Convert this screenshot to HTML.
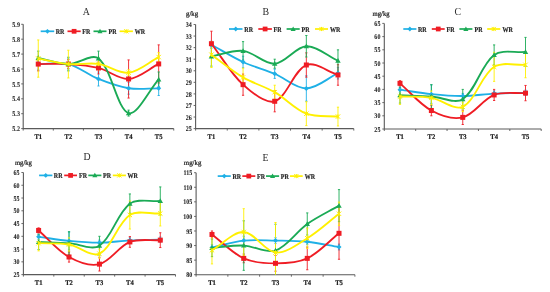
<!DOCTYPE html>
<html><head><meta charset="utf-8"><style>
html,body{margin:0;padding:0;background:#fff;}
body{width:550px;height:292px;overflow:hidden;}
svg{display:block;filter:blur(0.3px);}
text{font-family:"Liberation Serif", serif;text-rendering:geometricPrecision;}
</style></head><body>
<svg width="550" height="292" viewBox="0 0 550 292">
<rect width="550" height="292" fill="#fff"/>
<path d="M23.20,24.30V128.60H173.75" stroke="#5a5a5a" stroke-width="1.1" fill="none"/>
<path d="M21.20,128.60H23.20" stroke="#5a5a5a" stroke-width="0.9"/>
<text transform="translate(19.90,131.20) scale(0.850,1)" text-anchor="end" style="font-size:7.10px;font-weight:bold;fill:#1a1a1a;stroke:#1a1a1a;stroke-width:0.05px">5.2</text>
<path d="M21.20,113.70H23.20" stroke="#5a5a5a" stroke-width="0.9"/>
<text transform="translate(19.90,116.30) scale(0.850,1)" text-anchor="end" style="font-size:7.10px;font-weight:bold;fill:#1a1a1a;stroke:#1a1a1a;stroke-width:0.05px">5.3</text>
<path d="M21.20,98.80H23.20" stroke="#5a5a5a" stroke-width="0.9"/>
<text transform="translate(19.90,101.40) scale(0.850,1)" text-anchor="end" style="font-size:7.10px;font-weight:bold;fill:#1a1a1a;stroke:#1a1a1a;stroke-width:0.05px">5.4</text>
<path d="M21.20,83.90H23.20" stroke="#5a5a5a" stroke-width="0.9"/>
<text transform="translate(19.90,86.50) scale(0.850,1)" text-anchor="end" style="font-size:7.10px;font-weight:bold;fill:#1a1a1a;stroke:#1a1a1a;stroke-width:0.05px">5.5</text>
<path d="M21.20,69.00H23.20" stroke="#5a5a5a" stroke-width="0.9"/>
<text transform="translate(19.90,71.60) scale(0.850,1)" text-anchor="end" style="font-size:7.10px;font-weight:bold;fill:#1a1a1a;stroke:#1a1a1a;stroke-width:0.05px">5.6</text>
<path d="M21.20,54.10H23.20" stroke="#5a5a5a" stroke-width="0.9"/>
<text transform="translate(19.90,56.70) scale(0.850,1)" text-anchor="end" style="font-size:7.10px;font-weight:bold;fill:#1a1a1a;stroke:#1a1a1a;stroke-width:0.05px">5.7</text>
<path d="M21.20,39.20H23.20" stroke="#5a5a5a" stroke-width="0.9"/>
<text transform="translate(19.90,41.80) scale(0.850,1)" text-anchor="end" style="font-size:7.10px;font-weight:bold;fill:#1a1a1a;stroke:#1a1a1a;stroke-width:0.05px">5.8</text>
<path d="M21.20,24.30H23.20" stroke="#5a5a5a" stroke-width="0.9"/>
<text transform="translate(19.90,26.90) scale(0.850,1)" text-anchor="end" style="font-size:7.10px;font-weight:bold;fill:#1a1a1a;stroke:#1a1a1a;stroke-width:0.05px">5.9</text>
<path d="M23.20,128.60V130.60" stroke="#5a5a5a" stroke-width="0.9"/>
<path d="M53.31,128.60V130.60" stroke="#5a5a5a" stroke-width="0.9"/>
<path d="M83.42,128.60V130.60" stroke="#5a5a5a" stroke-width="0.9"/>
<path d="M113.53,128.60V130.60" stroke="#5a5a5a" stroke-width="0.9"/>
<path d="M143.64,128.60V130.60" stroke="#5a5a5a" stroke-width="0.9"/>
<path d="M173.75,128.60V130.60" stroke="#5a5a5a" stroke-width="0.9"/>
<text transform="translate(38.26,138.80) scale(0.930,1)" text-anchor="middle" style="font-size:7.10px;font-weight:bold;fill:#1a1a1a;stroke:#1a1a1a;stroke-width:0.18px">T1</text>
<text transform="translate(68.37,138.80) scale(0.930,1)" text-anchor="middle" style="font-size:7.10px;font-weight:bold;fill:#1a1a1a;stroke:#1a1a1a;stroke-width:0.18px">T2</text>
<text transform="translate(98.48,138.80) scale(0.930,1)" text-anchor="middle" style="font-size:7.10px;font-weight:bold;fill:#1a1a1a;stroke:#1a1a1a;stroke-width:0.18px">T3</text>
<text transform="translate(128.59,138.80) scale(0.930,1)" text-anchor="middle" style="font-size:7.10px;font-weight:bold;fill:#1a1a1a;stroke:#1a1a1a;stroke-width:0.18px">T4</text>
<text transform="translate(158.69,138.80) scale(0.930,1)" text-anchor="middle" style="font-size:7.10px;font-weight:bold;fill:#1a1a1a;stroke:#1a1a1a;stroke-width:0.18px">T5</text>
<text transform="translate(86.30,15.00) scale(0.920,1)" text-anchor="middle" style="font-size:10.70px;font-weight:normal;fill:#2a2a2a">A</text>
<path d="M40.70,31.30H54.20" stroke="#1fb0e6" stroke-width="1.7"/>
<path d="M47.45,28.93L49.83,31.30L47.45,33.67L45.08,31.30Z" fill="#1fb0e6"/>
<text transform="translate(55.70,34.00) scale(0.850,1)" text-anchor="start" style="font-size:7.10px;font-weight:bold;fill:#1a1a1a;stroke:#1a1a1a;stroke-width:0.18px">RR</text>
<path d="M67.50,31.30H80.70" stroke="#ef1c24" stroke-width="1.7"/>
<rect x="71.72" y="28.93" width="4.75" height="4.75" fill="#ef1c24"/>
<text transform="translate(82.30,34.00) scale(0.850,1)" text-anchor="start" style="font-size:7.10px;font-weight:bold;fill:#1a1a1a;stroke:#1a1a1a;stroke-width:0.18px">FR</text>
<path d="M93.50,31.30H106.50" stroke="#1aaa55" stroke-width="1.7"/>
<path d="M100.00,28.73L102.56,33.22L97.44,33.22Z" fill="#1aaa55"/>
<text transform="translate(108.60,34.00) scale(0.850,1)" text-anchor="start" style="font-size:7.10px;font-weight:bold;fill:#1a1a1a;stroke:#1a1a1a;stroke-width:0.18px">PR</text>
<path d="M119.60,31.30H132.90" stroke="#fff000" stroke-width="1.7"/>
<path d="M124.16,29.21L128.34,33.39M124.16,33.39L128.34,29.21M126.25,29.21L126.25,33.39" stroke="#fff000" stroke-width="1" fill="none"/>
<text transform="translate(134.70,34.00) scale(0.850,1)" text-anchor="start" style="font-size:7.10px;font-weight:bold;fill:#1a1a1a;stroke:#1a1a1a;stroke-width:0.18px">WR</text>
<clipPath id="c23_24"><rect x="23.20" y="-5.70" width="150.55" height="134.30"/></clipPath><g clip-path="url(#c23_24)">
<path d="M38.26,58.12V70.04M37.16,58.12H39.36M37.16,70.04H39.36" stroke="#1fb0e6" stroke-width="0.9" fill="none"/>
<path d="M68.37,58.12V70.04M67.27,58.12H69.47M67.27,70.04H69.47" stroke="#1fb0e6" stroke-width="0.9" fill="none"/>
<path d="M98.48,71.98V85.99M97.38,71.98H99.58M97.38,85.99H99.58" stroke="#1fb0e6" stroke-width="0.9" fill="none"/>
<path d="M128.59,82.26V94.18M127.49,82.26H129.69M127.49,94.18H129.69" stroke="#1fb0e6" stroke-width="0.9" fill="none"/>
<path d="M158.69,81.22V95.52M157.59,81.22H159.79M157.59,95.52H159.79" stroke="#1fb0e6" stroke-width="0.9" fill="none"/>
<path d="M38.26,57.23V70.94M37.16,57.23H39.36M37.16,70.94H39.36" stroke="#ef1c24" stroke-width="0.9" fill="none"/>
<path d="M68.37,59.61V68.55M67.27,59.61H69.47M67.27,68.55H69.47" stroke="#ef1c24" stroke-width="0.9" fill="none"/>
<path d="M98.48,62.00V73.92M97.38,62.00H99.58M97.38,73.92H99.58" stroke="#ef1c24" stroke-width="0.9" fill="none"/>
<path d="M128.59,59.91V98.05M127.49,59.91H129.69M127.49,98.05H129.69" stroke="#ef1c24" stroke-width="0.9" fill="none"/>
<path d="M158.69,44.86V83.01M157.59,44.86H159.79M157.59,83.01H159.79" stroke="#ef1c24" stroke-width="0.9" fill="none"/>
<path d="M38.26,51.12V64.83M37.16,51.12H39.36M37.16,64.83H39.36" stroke="#1aaa55" stroke-width="0.9" fill="none"/>
<path d="M68.37,57.23V70.94M67.27,57.23H69.47M67.27,70.94H69.47" stroke="#1aaa55" stroke-width="0.9" fill="none"/>
<path d="M98.48,51.12V65.72M97.38,51.12H99.58M97.38,65.72H99.58" stroke="#1aaa55" stroke-width="0.9" fill="none"/>
<path d="M128.59,110.12V116.08M127.49,110.12H129.69M127.49,116.08H129.69" stroke="#1aaa55" stroke-width="0.9" fill="none"/>
<path d="M158.69,71.98V86.88M157.59,71.98H159.79M157.59,86.88H159.79" stroke="#1aaa55" stroke-width="0.9" fill="none"/>
<path d="M38.26,39.95V77.20M37.16,39.95H39.36M37.16,77.20H39.36" stroke="#fff000" stroke-width="0.9" fill="none"/>
<path d="M68.37,50.23V77.94M67.27,50.23H69.47M67.27,77.94H69.47" stroke="#fff000" stroke-width="0.9" fill="none"/>
<path d="M98.48,57.97V69.89M97.38,57.97H99.58M97.38,69.89H99.58" stroke="#fff000" stroke-width="0.9" fill="none"/>
<path d="M128.59,69.75V75.70M127.49,69.75H129.69M127.49,75.70H129.69" stroke="#fff000" stroke-width="0.9" fill="none"/>
<path d="M158.69,52.61V61.55M157.59,52.61H159.79M157.59,61.55H159.79" stroke="#fff000" stroke-width="0.9" fill="none"/>
</g>
<path d="M38.26,64.08 C48.29,64.08 58.88,61.74 68.37,64.08 C78.95,66.70 88.11,74.83 98.48,78.98 C108.19,82.88 118.32,86.62 128.59,88.22 C138.40,89.75 148.66,88.32 158.69,88.37" stroke="#1fb0e6" stroke-width="1.85" fill="none"/>
<path d="M38.26,61.58L40.76,64.08L38.26,66.58L35.76,64.08Z" fill="#1fb0e6"/>
<path d="M68.37,61.58L70.87,64.08L68.37,66.58L65.87,64.08Z" fill="#1fb0e6"/>
<path d="M98.48,76.48L100.98,78.98L98.48,81.48L95.98,78.98Z" fill="#1fb0e6"/>
<path d="M128.59,85.72L131.09,88.22L128.59,90.72L126.09,88.22Z" fill="#1fb0e6"/>
<path d="M158.69,85.87L161.19,88.37L158.69,90.87L156.19,88.37Z" fill="#1fb0e6"/>
<path d="M38.26,64.08 C48.29,64.08 58.37,63.44 68.37,64.08 C78.44,64.73 88.71,65.54 98.48,67.96 C108.79,70.51 118.79,79.64 128.59,78.98 C138.87,78.30 148.66,68.95 158.69,63.93" stroke="#ef1c24" stroke-width="1.85" fill="none"/>
<rect x="35.76" y="61.58" width="5.00" height="5.00" fill="#ef1c24"/>
<rect x="65.87" y="61.58" width="5.00" height="5.00" fill="#ef1c24"/>
<rect x="95.98" y="65.46" width="5.00" height="5.00" fill="#ef1c24"/>
<rect x="126.09" y="76.48" width="5.00" height="5.00" fill="#ef1c24"/>
<rect x="156.19" y="61.43" width="5.00" height="5.00" fill="#ef1c24"/>
<path d="M38.26,57.97 C48.29,60.01 58.31,64.01 68.37,64.08 C78.39,64.16 91.87,53.04 98.48,58.42 C111.94,69.38 116.94,109.04 128.59,113.10 C137.01,116.04 148.66,90.65 158.69,79.43" stroke="#1aaa55" stroke-width="1.85" fill="none"/>
<path d="M38.26,55.27L40.96,60.00L35.55,60.00Z" fill="#1aaa55"/>
<path d="M68.37,61.38L71.07,66.11L65.67,66.11Z" fill="#1aaa55"/>
<path d="M98.48,55.72L101.18,60.45L95.78,60.45Z" fill="#1aaa55"/>
<path d="M128.59,110.40L131.28,115.13L125.89,115.13Z" fill="#1aaa55"/>
<path d="M158.69,76.73L161.39,81.46L156.00,81.46Z" fill="#1aaa55"/>
<path d="M38.26,58.57 C48.29,60.41 58.25,63.18 68.37,64.08 C78.32,64.97 88.64,62.52 98.48,63.93 C108.72,65.40 118.94,73.82 128.59,72.73 C139.02,71.54 148.66,62.30 158.69,57.08" stroke="#fff000" stroke-width="1.85" fill="none"/>
<path d="M36.05,56.37L40.46,60.77M36.05,60.77L40.46,56.37M38.26,56.37L38.26,60.77" stroke="#fff000" stroke-width="1" fill="none"/>
<path d="M66.17,61.88L70.57,66.28M66.17,66.28L70.57,61.88M68.37,61.88L68.37,66.28" stroke="#fff000" stroke-width="1" fill="none"/>
<path d="M96.28,61.73L100.68,66.13M96.28,66.13L100.68,61.73M98.48,61.73L98.48,66.13" stroke="#fff000" stroke-width="1" fill="none"/>
<path d="M126.39,70.53L130.78,74.93M126.39,74.93L130.78,70.53M128.59,70.53L128.59,74.93" stroke="#fff000" stroke-width="1" fill="none"/>
<path d="M156.50,54.88L160.89,59.28M156.50,59.28L160.89,54.88M158.69,54.88L158.69,59.28" stroke="#fff000" stroke-width="1" fill="none"/>
<path d="M195.60,24.50V128.60H353.80" stroke="#5a5a5a" stroke-width="1.1" fill="none"/>
<path d="M193.60,128.60H195.60" stroke="#5a5a5a" stroke-width="0.9"/>
<text transform="translate(191.70,131.20) scale(0.850,1)" text-anchor="end" style="font-size:7.10px;font-weight:bold;fill:#1a1a1a;stroke:#1a1a1a;stroke-width:0.05px">25</text>
<path d="M193.60,117.03H195.60" stroke="#5a5a5a" stroke-width="0.9"/>
<text transform="translate(191.70,119.63) scale(0.850,1)" text-anchor="end" style="font-size:7.10px;font-weight:bold;fill:#1a1a1a;stroke:#1a1a1a;stroke-width:0.05px">26</text>
<path d="M193.60,105.47H195.60" stroke="#5a5a5a" stroke-width="0.9"/>
<text transform="translate(191.70,108.07) scale(0.850,1)" text-anchor="end" style="font-size:7.10px;font-weight:bold;fill:#1a1a1a;stroke:#1a1a1a;stroke-width:0.05px">27</text>
<path d="M193.60,93.90H195.60" stroke="#5a5a5a" stroke-width="0.9"/>
<text transform="translate(191.70,96.50) scale(0.850,1)" text-anchor="end" style="font-size:7.10px;font-weight:bold;fill:#1a1a1a;stroke:#1a1a1a;stroke-width:0.05px">28</text>
<path d="M193.60,82.33H195.60" stroke="#5a5a5a" stroke-width="0.9"/>
<text transform="translate(191.70,84.93) scale(0.850,1)" text-anchor="end" style="font-size:7.10px;font-weight:bold;fill:#1a1a1a;stroke:#1a1a1a;stroke-width:0.05px">29</text>
<path d="M193.60,70.77H195.60" stroke="#5a5a5a" stroke-width="0.9"/>
<text transform="translate(191.70,73.37) scale(0.850,1)" text-anchor="end" style="font-size:7.10px;font-weight:bold;fill:#1a1a1a;stroke:#1a1a1a;stroke-width:0.05px">30</text>
<path d="M193.60,59.20H195.60" stroke="#5a5a5a" stroke-width="0.9"/>
<text transform="translate(191.70,61.80) scale(0.850,1)" text-anchor="end" style="font-size:7.10px;font-weight:bold;fill:#1a1a1a;stroke:#1a1a1a;stroke-width:0.05px">31</text>
<path d="M193.60,47.63H195.60" stroke="#5a5a5a" stroke-width="0.9"/>
<text transform="translate(191.70,50.23) scale(0.850,1)" text-anchor="end" style="font-size:7.10px;font-weight:bold;fill:#1a1a1a;stroke:#1a1a1a;stroke-width:0.05px">32</text>
<path d="M193.60,36.07H195.60" stroke="#5a5a5a" stroke-width="0.9"/>
<text transform="translate(191.70,38.67) scale(0.850,1)" text-anchor="end" style="font-size:7.10px;font-weight:bold;fill:#1a1a1a;stroke:#1a1a1a;stroke-width:0.05px">33</text>
<path d="M193.60,24.50H195.60" stroke="#5a5a5a" stroke-width="0.9"/>
<text transform="translate(191.70,27.10) scale(0.850,1)" text-anchor="end" style="font-size:7.10px;font-weight:bold;fill:#1a1a1a;stroke:#1a1a1a;stroke-width:0.05px">34</text>
<path d="M195.60,128.60V130.60" stroke="#5a5a5a" stroke-width="0.9"/>
<path d="M227.24,128.60V130.60" stroke="#5a5a5a" stroke-width="0.9"/>
<path d="M258.88,128.60V130.60" stroke="#5a5a5a" stroke-width="0.9"/>
<path d="M290.52,128.60V130.60" stroke="#5a5a5a" stroke-width="0.9"/>
<path d="M322.16,128.60V130.60" stroke="#5a5a5a" stroke-width="0.9"/>
<path d="M353.80,128.60V130.60" stroke="#5a5a5a" stroke-width="0.9"/>
<text transform="translate(211.42,138.80) scale(0.930,1)" text-anchor="middle" style="font-size:7.10px;font-weight:bold;fill:#1a1a1a;stroke:#1a1a1a;stroke-width:0.18px">T1</text>
<text transform="translate(243.06,138.80) scale(0.930,1)" text-anchor="middle" style="font-size:7.10px;font-weight:bold;fill:#1a1a1a;stroke:#1a1a1a;stroke-width:0.18px">T2</text>
<text transform="translate(274.70,138.80) scale(0.930,1)" text-anchor="middle" style="font-size:7.10px;font-weight:bold;fill:#1a1a1a;stroke:#1a1a1a;stroke-width:0.18px">T3</text>
<text transform="translate(306.34,138.80) scale(0.930,1)" text-anchor="middle" style="font-size:7.10px;font-weight:bold;fill:#1a1a1a;stroke:#1a1a1a;stroke-width:0.18px">T4</text>
<text transform="translate(337.98,138.80) scale(0.930,1)" text-anchor="middle" style="font-size:7.10px;font-weight:bold;fill:#1a1a1a;stroke:#1a1a1a;stroke-width:0.18px">T5</text>
<text transform="translate(265.80,15.20) scale(0.920,1)" text-anchor="middle" style="font-size:10.70px;font-weight:normal;fill:#2a2a2a">B</text>
<text transform="translate(186.00,16.20) scale(0.967,1)" text-anchor="start" style="font-size:7.10px;font-weight:normal;fill:#1a1a1a;stroke:#1a1a1a;stroke-width:0.22px">g/kg</text>
<path d="M229.00,29.00H242.50" stroke="#1fb0e6" stroke-width="1.7"/>
<path d="M235.75,26.62L238.12,29.00L235.75,31.38L233.38,29.00Z" fill="#1fb0e6"/>
<text transform="translate(244.30,31.70) scale(0.850,1)" text-anchor="start" style="font-size:7.10px;font-weight:bold;fill:#1a1a1a;stroke:#1a1a1a;stroke-width:0.18px">RR</text>
<path d="M258.30,29.00H271.90" stroke="#ef1c24" stroke-width="1.7"/>
<rect x="262.73" y="26.62" width="4.75" height="4.75" fill="#ef1c24"/>
<text transform="translate(273.50,31.70) scale(0.850,1)" text-anchor="start" style="font-size:7.10px;font-weight:bold;fill:#1a1a1a;stroke:#1a1a1a;stroke-width:0.18px">FR</text>
<path d="M286.60,29.00H299.70" stroke="#1aaa55" stroke-width="1.7"/>
<path d="M293.15,26.43L295.71,30.92L290.58,30.92Z" fill="#1aaa55"/>
<text transform="translate(301.50,31.70) scale(0.850,1)" text-anchor="start" style="font-size:7.10px;font-weight:bold;fill:#1a1a1a;stroke:#1a1a1a;stroke-width:0.18px">PR</text>
<path d="M315.00,29.00H328.00" stroke="#fff000" stroke-width="1.7"/>
<path d="M319.41,26.91L323.59,31.09M319.41,31.09L323.59,26.91M321.50,26.91L321.50,31.09" stroke="#fff000" stroke-width="1" fill="none"/>
<text transform="translate(330.00,31.70) scale(0.850,1)" text-anchor="start" style="font-size:7.10px;font-weight:bold;fill:#1a1a1a;stroke:#1a1a1a;stroke-width:0.18px">WR</text>
<clipPath id="c195_24"><rect x="195.60" y="-5.50" width="158.20" height="134.10"/></clipPath><g clip-path="url(#c195_24)">
<path d="M211.42,41.27V48.21M210.32,41.27H212.52M210.32,48.21H212.52" stroke="#1fb0e6" stroke-width="0.9" fill="none"/>
<path d="M243.06,56.19V67.76M241.96,56.19H244.16M241.96,67.76H244.16" stroke="#1fb0e6" stroke-width="0.9" fill="none"/>
<path d="M274.70,69.15V78.40M273.60,69.15H275.80M273.60,78.40H275.80" stroke="#1fb0e6" stroke-width="0.9" fill="none"/>
<path d="M306.34,75.74V101.19M305.24,75.74H307.44M305.24,101.19H307.44" stroke="#1fb0e6" stroke-width="0.9" fill="none"/>
<path d="M337.98,67.41V78.98M336.88,67.41H339.08M336.88,78.98H339.08" stroke="#1fb0e6" stroke-width="0.9" fill="none"/>
<path d="M211.42,31.21V56.19M210.32,31.21H212.52M210.32,56.19H212.52" stroke="#ef1c24" stroke-width="0.9" fill="none"/>
<path d="M243.06,74.01V95.29M241.96,74.01H244.16M241.96,95.29H244.16" stroke="#ef1c24" stroke-width="0.9" fill="none"/>
<path d="M274.70,90.78V111.83M273.60,90.78H275.80M273.60,111.83H275.80" stroke="#ef1c24" stroke-width="0.9" fill="none"/>
<path d="M306.34,52.84V77.13M305.24,52.84H307.44M305.24,77.13H307.44" stroke="#ef1c24" stroke-width="0.9" fill="none"/>
<path d="M337.98,64.64V85.22M336.88,64.64H339.08M336.88,85.22H339.08" stroke="#ef1c24" stroke-width="0.9" fill="none"/>
<path d="M211.42,46.71V66.14M210.32,46.71H212.52M210.32,66.14H212.52" stroke="#1aaa55" stroke-width="0.9" fill="none"/>
<path d="M243.06,41.62V60.13M241.96,41.62H244.16M241.96,60.13H244.16" stroke="#1aaa55" stroke-width="0.9" fill="none"/>
<path d="M274.70,59.20V68.22M273.60,59.20H275.80M273.60,68.22H275.80" stroke="#1aaa55" stroke-width="0.9" fill="none"/>
<path d="M306.34,35.49V57.00M305.24,35.49H307.44M305.24,57.00H307.44" stroke="#1aaa55" stroke-width="0.9" fill="none"/>
<path d="M337.98,49.83V71.81M336.88,49.83H339.08M336.88,71.81H339.08" stroke="#1aaa55" stroke-width="0.9" fill="none"/>
<path d="M211.42,41.85V67.53M210.32,41.85H212.52M210.32,67.53H212.52" stroke="#fff000" stroke-width="0.9" fill="none"/>
<path d="M243.06,68.11V86.61M241.96,68.11H244.16M241.96,86.61H244.16" stroke="#fff000" stroke-width="0.9" fill="none"/>
<path d="M274.70,85.22V99.11M273.60,85.22H275.80M273.60,99.11H275.80" stroke="#fff000" stroke-width="0.9" fill="none"/>
<path d="M306.34,101.77V125.59M305.24,101.77H307.44M305.24,125.59H307.44" stroke="#fff000" stroke-width="0.9" fill="none"/>
<path d="M337.98,107.20V125.94M336.88,107.20H339.08M336.88,125.94H339.08" stroke="#fff000" stroke-width="0.9" fill="none"/>
</g>
<path d="M211.42,44.74 C221.97,50.49 232.17,56.98 243.06,61.98 C253.26,66.66 264.32,69.43 274.70,73.77 C285.42,78.26 295.83,88.56 306.34,88.46 C316.92,88.37 327.43,78.29 337.98,73.20" stroke="#1fb0e6" stroke-width="1.85" fill="none"/>
<path d="M211.42,42.24L213.92,44.74L211.42,47.24L208.92,44.74Z" fill="#1fb0e6"/>
<path d="M243.06,59.48L245.56,61.98L243.06,64.48L240.56,61.98Z" fill="#1fb0e6"/>
<path d="M274.70,71.27L277.20,73.77L274.70,76.27L272.20,73.77Z" fill="#1fb0e6"/>
<path d="M306.34,85.96L308.84,88.46L306.34,90.96L303.84,88.46Z" fill="#1fb0e6"/>
<path d="M337.98,70.70L340.48,73.20L337.98,75.70L335.48,73.20Z" fill="#1fb0e6"/>
<path d="M211.42,43.70 C221.97,57.35 230.59,73.29 243.06,84.65 C251.68,92.49 265.71,104.10 274.70,101.30 C286.81,97.54 293.85,70.19 306.34,64.98 C314.94,61.40 327.43,71.61 337.98,74.93" stroke="#ef1c24" stroke-width="1.85" fill="none"/>
<rect x="208.92" y="41.20" width="5.00" height="5.00" fill="#ef1c24"/>
<rect x="240.56" y="82.15" width="5.00" height="5.00" fill="#ef1c24"/>
<rect x="272.20" y="98.80" width="5.00" height="5.00" fill="#ef1c24"/>
<rect x="303.84" y="62.48" width="5.00" height="5.00" fill="#ef1c24"/>
<rect x="335.48" y="72.43" width="5.00" height="5.00" fill="#ef1c24"/>
<path d="M211.42,56.42 C221.97,54.57 232.84,49.69 243.06,50.87 C253.93,52.12 264.45,64.46 274.70,63.71 C285.55,62.92 295.60,46.74 306.34,46.25 C316.69,45.77 327.43,55.96 337.98,60.82" stroke="#1aaa55" stroke-width="1.85" fill="none"/>
<path d="M211.42,53.72L214.12,58.45L208.72,58.45Z" fill="#1aaa55"/>
<path d="M243.06,48.17L245.76,52.90L240.36,52.90Z" fill="#1aaa55"/>
<path d="M274.70,61.01L277.40,65.74L272.00,65.74Z" fill="#1aaa55"/>
<path d="M306.34,43.55L309.04,48.27L303.64,48.27Z" fill="#1aaa55"/>
<path d="M337.98,58.12L340.68,62.84L335.28,62.84Z" fill="#1aaa55"/>
<path d="M211.42,54.69 C221.97,62.25 231.94,70.78 243.06,77.36 C253.04,83.27 264.63,86.39 274.70,92.17 C285.73,98.49 294.82,109.23 306.34,113.68 C315.91,117.37 327.43,115.61 337.98,116.57" stroke="#fff000" stroke-width="1.85" fill="none"/>
<path d="M209.22,52.49L213.62,56.89M209.22,56.89L213.62,52.49M211.42,52.49L211.42,56.89" stroke="#fff000" stroke-width="1" fill="none"/>
<path d="M240.86,75.16L245.26,79.56M240.86,79.56L245.26,75.16M243.06,75.16L243.06,79.56" stroke="#fff000" stroke-width="1" fill="none"/>
<path d="M272.50,89.97L276.90,94.37M272.50,94.37L276.90,89.97M274.70,89.97L274.70,94.37" stroke="#fff000" stroke-width="1" fill="none"/>
<path d="M304.14,111.48L308.54,115.88M304.14,115.88L308.54,111.48M306.34,111.48L306.34,115.88" stroke="#fff000" stroke-width="1" fill="none"/>
<path d="M335.78,114.37L340.18,118.77M335.78,118.77L340.18,114.37M337.98,114.37L337.98,118.77" stroke="#fff000" stroke-width="1" fill="none"/>
<path d="M384.30,23.40V129.00H541.20" stroke="#5a5a5a" stroke-width="1.1" fill="none"/>
<path d="M382.30,129.00H384.30" stroke="#5a5a5a" stroke-width="0.9"/>
<text transform="translate(380.40,131.60) scale(0.850,1)" text-anchor="end" style="font-size:7.10px;font-weight:bold;fill:#1a1a1a;stroke:#1a1a1a;stroke-width:0.05px">25</text>
<path d="M382.30,115.80H384.30" stroke="#5a5a5a" stroke-width="0.9"/>
<text transform="translate(380.40,118.40) scale(0.850,1)" text-anchor="end" style="font-size:7.10px;font-weight:bold;fill:#1a1a1a;stroke:#1a1a1a;stroke-width:0.05px">30</text>
<path d="M382.30,102.60H384.30" stroke="#5a5a5a" stroke-width="0.9"/>
<text transform="translate(380.40,105.20) scale(0.850,1)" text-anchor="end" style="font-size:7.10px;font-weight:bold;fill:#1a1a1a;stroke:#1a1a1a;stroke-width:0.05px">35</text>
<path d="M382.30,89.40H384.30" stroke="#5a5a5a" stroke-width="0.9"/>
<text transform="translate(380.40,92.00) scale(0.850,1)" text-anchor="end" style="font-size:7.10px;font-weight:bold;fill:#1a1a1a;stroke:#1a1a1a;stroke-width:0.05px">40</text>
<path d="M382.30,76.20H384.30" stroke="#5a5a5a" stroke-width="0.9"/>
<text transform="translate(380.40,78.80) scale(0.850,1)" text-anchor="end" style="font-size:7.10px;font-weight:bold;fill:#1a1a1a;stroke:#1a1a1a;stroke-width:0.05px">45</text>
<path d="M382.30,63.00H384.30" stroke="#5a5a5a" stroke-width="0.9"/>
<text transform="translate(380.40,65.60) scale(0.850,1)" text-anchor="end" style="font-size:7.10px;font-weight:bold;fill:#1a1a1a;stroke:#1a1a1a;stroke-width:0.05px">50</text>
<path d="M382.30,49.80H384.30" stroke="#5a5a5a" stroke-width="0.9"/>
<text transform="translate(380.40,52.40) scale(0.850,1)" text-anchor="end" style="font-size:7.10px;font-weight:bold;fill:#1a1a1a;stroke:#1a1a1a;stroke-width:0.05px">55</text>
<path d="M382.30,36.60H384.30" stroke="#5a5a5a" stroke-width="0.9"/>
<text transform="translate(380.40,39.20) scale(0.850,1)" text-anchor="end" style="font-size:7.10px;font-weight:bold;fill:#1a1a1a;stroke:#1a1a1a;stroke-width:0.05px">60</text>
<path d="M382.30,23.40H384.30" stroke="#5a5a5a" stroke-width="0.9"/>
<text transform="translate(380.40,26.00) scale(0.850,1)" text-anchor="end" style="font-size:7.10px;font-weight:bold;fill:#1a1a1a;stroke:#1a1a1a;stroke-width:0.05px">65</text>
<path d="M384.30,129.00V131.00" stroke="#5a5a5a" stroke-width="0.9"/>
<path d="M415.68,129.00V131.00" stroke="#5a5a5a" stroke-width="0.9"/>
<path d="M447.06,129.00V131.00" stroke="#5a5a5a" stroke-width="0.9"/>
<path d="M478.44,129.00V131.00" stroke="#5a5a5a" stroke-width="0.9"/>
<path d="M509.82,129.00V131.00" stroke="#5a5a5a" stroke-width="0.9"/>
<path d="M541.20,129.00V131.00" stroke="#5a5a5a" stroke-width="0.9"/>
<text transform="translate(399.99,139.20) scale(0.930,1)" text-anchor="middle" style="font-size:7.10px;font-weight:bold;fill:#1a1a1a;stroke:#1a1a1a;stroke-width:0.18px">T1</text>
<text transform="translate(431.37,139.20) scale(0.930,1)" text-anchor="middle" style="font-size:7.10px;font-weight:bold;fill:#1a1a1a;stroke:#1a1a1a;stroke-width:0.18px">T2</text>
<text transform="translate(462.75,139.20) scale(0.930,1)" text-anchor="middle" style="font-size:7.10px;font-weight:bold;fill:#1a1a1a;stroke:#1a1a1a;stroke-width:0.18px">T3</text>
<text transform="translate(494.13,139.20) scale(0.930,1)" text-anchor="middle" style="font-size:7.10px;font-weight:bold;fill:#1a1a1a;stroke:#1a1a1a;stroke-width:0.18px">T4</text>
<text transform="translate(525.51,139.20) scale(0.930,1)" text-anchor="middle" style="font-size:7.10px;font-weight:bold;fill:#1a1a1a;stroke:#1a1a1a;stroke-width:0.18px">T5</text>
<text transform="translate(457.80,15.00) scale(0.920,1)" text-anchor="middle" style="font-size:10.70px;font-weight:normal;fill:#2a2a2a">C</text>
<text transform="translate(372.60,16.00) scale(0.936,1)" text-anchor="start" style="font-size:7.10px;font-weight:normal;fill:#1a1a1a;stroke:#1a1a1a;stroke-width:0.22px">mg/kg</text>
<path d="M403.30,29.00H416.40" stroke="#1fb0e6" stroke-width="1.7"/>
<path d="M409.85,26.62L412.23,29.00L409.85,31.38L407.48,29.00Z" fill="#1fb0e6"/>
<text transform="translate(418.00,31.70) scale(0.850,1)" text-anchor="start" style="font-size:7.10px;font-weight:bold;fill:#1a1a1a;stroke:#1a1a1a;stroke-width:0.18px">RR</text>
<path d="M431.80,29.00H444.70" stroke="#ef1c24" stroke-width="1.7"/>
<rect x="435.88" y="26.62" width="4.75" height="4.75" fill="#ef1c24"/>
<text transform="translate(446.60,31.70) scale(0.850,1)" text-anchor="start" style="font-size:7.10px;font-weight:bold;fill:#1a1a1a;stroke:#1a1a1a;stroke-width:0.18px">FR</text>
<path d="M459.40,29.00H472.40" stroke="#1aaa55" stroke-width="1.7"/>
<path d="M465.90,26.43L468.46,30.92L463.33,30.92Z" fill="#1aaa55"/>
<text transform="translate(474.60,31.70) scale(0.850,1)" text-anchor="start" style="font-size:7.10px;font-weight:bold;fill:#1a1a1a;stroke:#1a1a1a;stroke-width:0.18px">PR</text>
<path d="M487.20,29.00H500.30" stroke="#fff000" stroke-width="1.7"/>
<path d="M491.66,26.91L495.84,31.09M491.66,31.09L495.84,26.91M493.75,26.91L493.75,31.09" stroke="#fff000" stroke-width="1" fill="none"/>
<text transform="translate(502.40,31.70) scale(0.850,1)" text-anchor="start" style="font-size:7.10px;font-weight:bold;fill:#1a1a1a;stroke:#1a1a1a;stroke-width:0.18px">WR</text>
<clipPath id="c384_23"><rect x="384.30" y="-6.60" width="156.90" height="135.60"/></clipPath><g clip-path="url(#c384_23)">
<path d="M399.99,87.02V92.30M398.89,87.02H401.09M398.89,92.30H401.09" stroke="#1fb0e6" stroke-width="0.9" fill="none"/>
<path d="M431.37,84.91V103.39M430.27,84.91H432.47M430.27,103.39H432.47" stroke="#1fb0e6" stroke-width="0.9" fill="none"/>
<path d="M462.75,93.36V98.64M461.65,93.36H463.85M461.65,98.64H463.85" stroke="#1fb0e6" stroke-width="0.9" fill="none"/>
<path d="M494.13,90.98V96.26M493.03,90.98H495.23M493.03,96.26H495.23" stroke="#1fb0e6" stroke-width="0.9" fill="none"/>
<path d="M525.51,90.19V95.47M524.41,90.19H526.61M524.41,95.47H526.61" stroke="#1fb0e6" stroke-width="0.9" fill="none"/>
<path d="M399.99,80.69V85.97M398.89,80.69H401.09M398.89,85.97H401.09" stroke="#ef1c24" stroke-width="0.9" fill="none"/>
<path d="M431.37,105.24V115.80M430.27,105.24H432.47M430.27,115.80H432.47" stroke="#ef1c24" stroke-width="0.9" fill="none"/>
<path d="M462.75,110.26V124.51M461.65,110.26H463.85M461.65,124.51H463.85" stroke="#ef1c24" stroke-width="0.9" fill="none"/>
<path d="M494.13,89.40V100.49M493.03,89.40H495.23M493.03,100.49H495.23" stroke="#ef1c24" stroke-width="0.9" fill="none"/>
<path d="M525.51,85.44V100.75M524.41,85.44H526.61M524.41,100.75H526.61" stroke="#ef1c24" stroke-width="0.9" fill="none"/>
<path d="M399.99,87.29V103.13M398.89,87.29H401.09M398.89,103.13H401.09" stroke="#1aaa55" stroke-width="0.9" fill="none"/>
<path d="M431.37,84.65V108.41M430.27,84.65H432.47M430.27,108.41H432.47" stroke="#1aaa55" stroke-width="0.9" fill="none"/>
<path d="M462.75,89.40V108.94M461.65,89.40H463.85M461.65,108.94H463.85" stroke="#1aaa55" stroke-width="0.9" fill="none"/>
<path d="M494.13,44.92V64.98M493.03,44.92H495.23M493.03,64.98H495.23" stroke="#1aaa55" stroke-width="0.9" fill="none"/>
<path d="M525.51,37.39V66.43M524.41,37.39H526.61M524.41,66.43H526.61" stroke="#1aaa55" stroke-width="0.9" fill="none"/>
<path d="M399.99,88.61V104.45M398.89,88.61H401.09M398.89,104.45H401.09" stroke="#fff000" stroke-width="0.9" fill="none"/>
<path d="M431.37,90.98V104.71M430.27,90.98H432.47M430.27,104.71H432.47" stroke="#fff000" stroke-width="0.9" fill="none"/>
<path d="M462.75,102.07V111.58M461.65,102.07H463.85M461.65,111.58H463.85" stroke="#fff000" stroke-width="0.9" fill="none"/>
<path d="M494.13,52.31V81.35M493.03,52.31H495.23M493.03,81.35H495.23" stroke="#fff000" stroke-width="0.9" fill="none"/>
<path d="M525.51,51.91V77.78M524.41,51.91H526.61M524.41,77.78H526.61" stroke="#fff000" stroke-width="0.9" fill="none"/>
</g>
<path d="M399.99,89.66 C410.45,91.16 420.87,93.09 431.37,94.15 C441.79,95.20 452.30,96.09 462.75,96.00 C473.22,95.91 483.66,94.15 494.13,93.62 C504.58,93.10 515.05,93.10 525.51,92.83" stroke="#1fb0e6" stroke-width="1.85" fill="none"/>
<path d="M399.99,87.16L402.49,89.66L399.99,92.16L397.49,89.66Z" fill="#1fb0e6"/>
<path d="M431.37,91.65L433.87,94.15L431.37,96.65L428.87,94.15Z" fill="#1fb0e6"/>
<path d="M462.75,93.50L465.25,96.00L462.75,98.50L460.25,96.00Z" fill="#1fb0e6"/>
<path d="M494.13,91.12L496.63,93.62L494.13,96.12L491.63,93.62Z" fill="#1fb0e6"/>
<path d="M525.51,90.33L528.01,92.83L525.51,95.33L523.01,92.83Z" fill="#1fb0e6"/>
<path d="M399.99,83.33 C410.45,92.39 419.57,104.12 431.37,110.52 C440.49,115.47 453.25,119.74 462.75,117.38 C474.17,114.55 482.60,99.41 494.13,94.94 C503.52,91.31 515.05,93.71 525.51,93.10" stroke="#ef1c24" stroke-width="1.85" fill="none"/>
<rect x="397.49" y="80.83" width="5.00" height="5.00" fill="#ef1c24"/>
<rect x="428.87" y="108.02" width="5.00" height="5.00" fill="#ef1c24"/>
<rect x="460.25" y="114.88" width="5.00" height="5.00" fill="#ef1c24"/>
<rect x="491.63" y="92.44" width="5.00" height="5.00" fill="#ef1c24"/>
<rect x="523.01" y="90.60" width="5.00" height="5.00" fill="#ef1c24"/>
<path d="M399.99,95.21 C410.45,95.65 420.92,95.87 431.37,96.53 C441.84,97.19 455.06,104.26 462.75,99.17 C475.98,90.40 480.90,64.91 494.13,54.95 C501.82,49.16 515.05,52.92 525.51,51.91" stroke="#1aaa55" stroke-width="1.85" fill="none"/>
<path d="M399.99,92.51L402.69,97.23L397.29,97.23Z" fill="#1aaa55"/>
<path d="M431.37,93.83L434.07,98.55L428.67,98.55Z" fill="#1aaa55"/>
<path d="M462.75,96.47L465.45,101.19L460.05,101.19Z" fill="#1aaa55"/>
<path d="M494.13,52.25L496.83,56.97L491.43,56.97Z" fill="#1aaa55"/>
<path d="M525.51,49.21L528.21,53.94L522.81,53.94Z" fill="#1aaa55"/>
<path d="M399.99,96.53 C410.45,96.97 421.11,96.16 431.37,97.85 C442.03,99.60 454.57,110.87 462.75,106.82 C475.49,100.53 481.20,75.47 494.13,66.83 C502.12,61.48 515.05,65.51 525.51,64.85" stroke="#fff000" stroke-width="1.85" fill="none"/>
<path d="M397.79,94.33L402.19,98.73M397.79,98.73L402.19,94.33M399.99,94.33L399.99,98.73" stroke="#fff000" stroke-width="1" fill="none"/>
<path d="M429.17,95.65L433.57,100.05M429.17,100.05L433.57,95.65M431.37,95.65L431.37,100.05" stroke="#fff000" stroke-width="1" fill="none"/>
<path d="M460.55,104.62L464.95,109.02M460.55,109.02L464.95,104.62M462.75,104.62L462.75,109.02" stroke="#fff000" stroke-width="1" fill="none"/>
<path d="M491.93,64.63L496.33,69.03M491.93,69.03L496.33,64.63M494.13,64.63L494.13,69.03" stroke="#fff000" stroke-width="1" fill="none"/>
<path d="M523.31,62.65L527.71,67.05M523.31,67.05L527.71,62.65M525.51,62.65L525.51,67.05" stroke="#fff000" stroke-width="1" fill="none"/>
<path d="M23.40,172.50V274.60H175.50" stroke="#5a5a5a" stroke-width="1.1" fill="none"/>
<path d="M21.40,274.60H23.40" stroke="#5a5a5a" stroke-width="0.9"/>
<text transform="translate(19.50,277.20) scale(0.850,1)" text-anchor="end" style="font-size:7.10px;font-weight:bold;fill:#1a1a1a;stroke:#1a1a1a;stroke-width:0.05px">25</text>
<path d="M21.40,261.84H23.40" stroke="#5a5a5a" stroke-width="0.9"/>
<text transform="translate(19.50,264.44) scale(0.850,1)" text-anchor="end" style="font-size:7.10px;font-weight:bold;fill:#1a1a1a;stroke:#1a1a1a;stroke-width:0.05px">30</text>
<path d="M21.40,249.08H23.40" stroke="#5a5a5a" stroke-width="0.9"/>
<text transform="translate(19.50,251.68) scale(0.850,1)" text-anchor="end" style="font-size:7.10px;font-weight:bold;fill:#1a1a1a;stroke:#1a1a1a;stroke-width:0.05px">35</text>
<path d="M21.40,236.31H23.40" stroke="#5a5a5a" stroke-width="0.9"/>
<text transform="translate(19.50,238.91) scale(0.850,1)" text-anchor="end" style="font-size:7.10px;font-weight:bold;fill:#1a1a1a;stroke:#1a1a1a;stroke-width:0.05px">40</text>
<path d="M21.40,223.55H23.40" stroke="#5a5a5a" stroke-width="0.9"/>
<text transform="translate(19.50,226.15) scale(0.850,1)" text-anchor="end" style="font-size:7.10px;font-weight:bold;fill:#1a1a1a;stroke:#1a1a1a;stroke-width:0.05px">45</text>
<path d="M21.40,210.79H23.40" stroke="#5a5a5a" stroke-width="0.9"/>
<text transform="translate(19.50,213.39) scale(0.850,1)" text-anchor="end" style="font-size:7.10px;font-weight:bold;fill:#1a1a1a;stroke:#1a1a1a;stroke-width:0.05px">50</text>
<path d="M21.40,198.03H23.40" stroke="#5a5a5a" stroke-width="0.9"/>
<text transform="translate(19.50,200.62) scale(0.850,1)" text-anchor="end" style="font-size:7.10px;font-weight:bold;fill:#1a1a1a;stroke:#1a1a1a;stroke-width:0.05px">55</text>
<path d="M21.40,185.26H23.40" stroke="#5a5a5a" stroke-width="0.9"/>
<text transform="translate(19.50,187.86) scale(0.850,1)" text-anchor="end" style="font-size:7.10px;font-weight:bold;fill:#1a1a1a;stroke:#1a1a1a;stroke-width:0.05px">60</text>
<path d="M21.40,172.50H23.40" stroke="#5a5a5a" stroke-width="0.9"/>
<text transform="translate(19.50,175.10) scale(0.850,1)" text-anchor="end" style="font-size:7.10px;font-weight:bold;fill:#1a1a1a;stroke:#1a1a1a;stroke-width:0.05px">65</text>
<path d="M23.40,274.60V276.60" stroke="#5a5a5a" stroke-width="0.9"/>
<path d="M53.82,274.60V276.60" stroke="#5a5a5a" stroke-width="0.9"/>
<path d="M84.24,274.60V276.60" stroke="#5a5a5a" stroke-width="0.9"/>
<path d="M114.66,274.60V276.60" stroke="#5a5a5a" stroke-width="0.9"/>
<path d="M145.08,274.60V276.60" stroke="#5a5a5a" stroke-width="0.9"/>
<path d="M175.50,274.60V276.60" stroke="#5a5a5a" stroke-width="0.9"/>
<text transform="translate(38.61,284.80) scale(0.930,1)" text-anchor="middle" style="font-size:7.10px;font-weight:bold;fill:#1a1a1a;stroke:#1a1a1a;stroke-width:0.18px">T1</text>
<text transform="translate(69.03,284.80) scale(0.930,1)" text-anchor="middle" style="font-size:7.10px;font-weight:bold;fill:#1a1a1a;stroke:#1a1a1a;stroke-width:0.18px">T2</text>
<text transform="translate(99.45,284.80) scale(0.930,1)" text-anchor="middle" style="font-size:7.10px;font-weight:bold;fill:#1a1a1a;stroke:#1a1a1a;stroke-width:0.18px">T3</text>
<text transform="translate(129.87,284.80) scale(0.930,1)" text-anchor="middle" style="font-size:7.10px;font-weight:bold;fill:#1a1a1a;stroke:#1a1a1a;stroke-width:0.18px">T4</text>
<text transform="translate(160.29,284.80) scale(0.930,1)" text-anchor="middle" style="font-size:7.10px;font-weight:bold;fill:#1a1a1a;stroke:#1a1a1a;stroke-width:0.18px">T5</text>
<text transform="translate(87.10,160.40) scale(0.920,1)" text-anchor="middle" style="font-size:10.70px;font-weight:normal;fill:#2a2a2a">D</text>
<text transform="translate(14.90,165.10) scale(0.936,1)" text-anchor="start" style="font-size:7.10px;font-weight:normal;fill:#1a1a1a;stroke:#1a1a1a;stroke-width:0.22px">mg/kg</text>
<path d="M39.10,175.40H52.40" stroke="#1fb0e6" stroke-width="1.7"/>
<path d="M45.75,173.03L48.12,175.40L45.75,177.78L43.38,175.40Z" fill="#1fb0e6"/>
<text transform="translate(53.80,178.10) scale(0.850,1)" text-anchor="start" style="font-size:7.10px;font-weight:bold;fill:#1a1a1a;stroke:#1a1a1a;stroke-width:0.18px">RR</text>
<path d="M64.20,175.40H77.00" stroke="#ef1c24" stroke-width="1.7"/>
<rect x="68.22" y="173.03" width="4.75" height="4.75" fill="#ef1c24"/>
<text transform="translate(79.00,178.10) scale(0.850,1)" text-anchor="start" style="font-size:7.10px;font-weight:bold;fill:#1a1a1a;stroke:#1a1a1a;stroke-width:0.18px">FR</text>
<path d="M88.30,175.40H101.40" stroke="#1aaa55" stroke-width="1.7"/>
<path d="M94.85,172.84L97.41,177.32L92.28,177.32Z" fill="#1aaa55"/>
<text transform="translate(103.00,178.10) scale(0.850,1)" text-anchor="start" style="font-size:7.10px;font-weight:bold;fill:#1a1a1a;stroke:#1a1a1a;stroke-width:0.18px">PR</text>
<path d="M112.80,175.40H125.90" stroke="#fff000" stroke-width="1.7"/>
<path d="M117.26,173.31L121.44,177.49M117.26,177.49L121.44,173.31M119.35,173.31L119.35,177.49" stroke="#fff000" stroke-width="1" fill="none"/>
<text transform="translate(127.50,178.10) scale(0.850,1)" text-anchor="start" style="font-size:7.10px;font-weight:bold;fill:#1a1a1a;stroke:#1a1a1a;stroke-width:0.18px">WR</text>
<clipPath id="c23_172"><rect x="23.40" y="142.50" width="152.10" height="132.10"/></clipPath><g clip-path="url(#c23_172)">
<path d="M38.61,234.27V239.38M37.51,234.27H39.71M37.51,239.38H39.71" stroke="#1fb0e6" stroke-width="0.9" fill="none"/>
<path d="M69.03,231.97V249.84M67.93,231.97H70.13M67.93,249.84H70.13" stroke="#1fb0e6" stroke-width="0.9" fill="none"/>
<path d="M99.45,240.14V245.25M98.35,240.14H100.55M98.35,245.25H100.55" stroke="#1fb0e6" stroke-width="0.9" fill="none"/>
<path d="M129.87,237.84V242.95M128.77,237.84H130.97M128.77,242.95H130.97" stroke="#1fb0e6" stroke-width="0.9" fill="none"/>
<path d="M160.29,237.08V242.18M159.19,237.08H161.39M159.19,242.18H161.39" stroke="#1fb0e6" stroke-width="0.9" fill="none"/>
<path d="M38.61,227.89V232.99M37.51,227.89H39.71M37.51,232.99H39.71" stroke="#ef1c24" stroke-width="0.9" fill="none"/>
<path d="M69.03,251.88V262.09M67.93,251.88H70.13M67.93,262.09H70.13" stroke="#ef1c24" stroke-width="0.9" fill="none"/>
<path d="M99.45,257.24V271.03M98.35,257.24H100.55M98.35,271.03H100.55" stroke="#ef1c24" stroke-width="0.9" fill="none"/>
<path d="M129.87,236.57V247.29M128.77,236.57H130.97M128.77,247.29H130.97" stroke="#ef1c24" stroke-width="0.9" fill="none"/>
<path d="M160.29,232.74V247.54M159.19,232.74H161.39M159.19,247.54H161.39" stroke="#ef1c24" stroke-width="0.9" fill="none"/>
<path d="M38.61,234.27V249.59M37.51,234.27H39.71M37.51,249.59H39.71" stroke="#1aaa55" stroke-width="0.9" fill="none"/>
<path d="M69.03,231.72V254.69M67.93,231.72H70.13M67.93,254.69H70.13" stroke="#1aaa55" stroke-width="0.9" fill="none"/>
<path d="M99.45,236.31V255.20M98.35,236.31H100.55M98.35,255.20H100.55" stroke="#1aaa55" stroke-width="0.9" fill="none"/>
<path d="M129.87,193.94V213.34M128.77,193.94H130.97M128.77,213.34H130.97" stroke="#1aaa55" stroke-width="0.9" fill="none"/>
<path d="M160.29,186.92V215.00M159.19,186.92H161.39M159.19,215.00H161.39" stroke="#1aaa55" stroke-width="0.9" fill="none"/>
<path d="M38.61,235.55V250.86M37.51,235.55H39.71M37.51,250.86H39.71" stroke="#fff000" stroke-width="0.9" fill="none"/>
<path d="M69.03,237.84V251.12M67.93,237.84H70.13M67.93,251.12H70.13" stroke="#fff000" stroke-width="0.9" fill="none"/>
<path d="M99.45,249.08V258.26M98.35,249.08H100.55M98.35,258.26H100.55" stroke="#fff000" stroke-width="0.9" fill="none"/>
<path d="M129.87,200.96V229.04M128.77,200.96H130.97M128.77,229.04H130.97" stroke="#fff000" stroke-width="0.9" fill="none"/>
<path d="M160.29,200.96V225.97M159.19,200.96H161.39M159.19,225.97H161.39" stroke="#fff000" stroke-width="0.9" fill="none"/>
</g>
<path d="M38.61,236.82 C48.75,238.18 58.85,239.93 69.03,240.91 C79.13,241.88 89.32,242.78 99.45,242.69 C109.60,242.61 119.72,240.91 129.87,240.40 C140.00,239.89 150.15,239.89 160.29,239.63" stroke="#1fb0e6" stroke-width="1.85" fill="none"/>
<path d="M38.61,234.32L41.11,236.82L38.61,239.32L36.11,236.82Z" fill="#1fb0e6"/>
<path d="M69.03,238.41L71.53,240.91L69.03,243.41L66.53,240.91Z" fill="#1fb0e6"/>
<path d="M99.45,240.19L101.95,242.69L99.45,245.19L96.95,242.69Z" fill="#1fb0e6"/>
<path d="M129.87,237.90L132.37,240.40L129.87,242.90L127.37,240.40Z" fill="#1fb0e6"/>
<path d="M160.29,237.13L162.79,239.63L160.29,242.13L157.79,239.63Z" fill="#1fb0e6"/>
<path d="M38.61,230.44 C48.75,239.29 57.60,250.66 69.03,256.99 C77.88,261.89 90.25,266.41 99.45,264.13 C110.53,261.39 118.66,246.35 129.87,241.93 C138.94,238.35 150.15,240.74 160.29,240.14" stroke="#ef1c24" stroke-width="1.85" fill="none"/>
<rect x="36.11" y="227.94" width="5.00" height="5.00" fill="#ef1c24"/>
<rect x="66.53" y="254.49" width="5.00" height="5.00" fill="#ef1c24"/>
<rect x="96.95" y="261.63" width="5.00" height="5.00" fill="#ef1c24"/>
<rect x="127.37" y="239.43" width="5.00" height="5.00" fill="#ef1c24"/>
<rect x="157.79" y="237.64" width="5.00" height="5.00" fill="#ef1c24"/>
<path d="M38.61,241.93 C48.75,242.35 58.90,242.57 69.03,243.20 C79.18,243.84 91.94,250.64 99.45,245.76 C112.22,237.45 117.10,213.04 129.87,203.64 C137.38,198.11 150.15,201.85 160.29,200.96" stroke="#1aaa55" stroke-width="1.85" fill="none"/>
<path d="M38.61,239.23L41.31,243.95L35.91,243.95Z" fill="#1aaa55"/>
<path d="M69.03,240.50L71.73,245.23L66.33,245.23Z" fill="#1aaa55"/>
<path d="M99.45,243.06L102.15,247.78L96.75,247.78Z" fill="#1aaa55"/>
<path d="M129.87,200.94L132.57,205.67L127.17,205.67Z" fill="#1aaa55"/>
<path d="M160.29,198.26L162.99,202.99L157.59,202.99Z" fill="#1aaa55"/>
<path d="M38.61,243.20 C48.75,243.63 59.11,242.77 69.03,244.48 C79.39,246.26 91.49,257.53 99.45,253.67 C111.77,247.70 117.34,223.28 129.87,215.00 C137.62,209.88 150.15,213.98 160.29,213.47" stroke="#fff000" stroke-width="1.85" fill="none"/>
<path d="M36.41,241.00L40.81,245.40M36.41,245.40L40.81,241.00M38.61,241.00L38.61,245.40" stroke="#fff000" stroke-width="1" fill="none"/>
<path d="M66.83,242.28L71.23,246.68M66.83,246.68L71.23,242.28M69.03,242.28L69.03,246.68" stroke="#fff000" stroke-width="1" fill="none"/>
<path d="M97.25,251.47L101.65,255.87M97.25,255.87L101.65,251.47M99.45,251.47L99.45,255.87" stroke="#fff000" stroke-width="1" fill="none"/>
<path d="M127.67,212.80L132.07,217.20M127.67,217.20L132.07,212.80M129.87,212.80L129.87,217.20" stroke="#fff000" stroke-width="1" fill="none"/>
<path d="M158.09,211.27L162.49,215.67M158.09,215.67L162.49,211.27M160.29,211.27L160.29,215.67" stroke="#fff000" stroke-width="1" fill="none"/>
<path d="M196.10,172.70V274.70H354.90" stroke="#5a5a5a" stroke-width="1.1" fill="none"/>
<path d="M194.10,274.70H196.10" stroke="#5a5a5a" stroke-width="0.9"/>
<text transform="translate(192.20,277.30) scale(0.850,1)" text-anchor="end" style="font-size:7.10px;font-weight:bold;fill:#1a1a1a;stroke:#1a1a1a;stroke-width:0.05px">80</text>
<path d="M194.10,260.13H196.10" stroke="#5a5a5a" stroke-width="0.9"/>
<text transform="translate(192.20,262.73) scale(0.850,1)" text-anchor="end" style="font-size:7.10px;font-weight:bold;fill:#1a1a1a;stroke:#1a1a1a;stroke-width:0.05px">85</text>
<path d="M194.10,245.56H196.10" stroke="#5a5a5a" stroke-width="0.9"/>
<text transform="translate(192.20,248.16) scale(0.850,1)" text-anchor="end" style="font-size:7.10px;font-weight:bold;fill:#1a1a1a;stroke:#1a1a1a;stroke-width:0.05px">90</text>
<path d="M194.10,230.99H196.10" stroke="#5a5a5a" stroke-width="0.9"/>
<text transform="translate(192.20,233.59) scale(0.850,1)" text-anchor="end" style="font-size:7.10px;font-weight:bold;fill:#1a1a1a;stroke:#1a1a1a;stroke-width:0.05px">95</text>
<path d="M194.10,216.41H196.10" stroke="#5a5a5a" stroke-width="0.9"/>
<text transform="translate(192.20,219.01) scale(0.850,1)" text-anchor="end" style="font-size:7.10px;font-weight:bold;fill:#1a1a1a;stroke:#1a1a1a;stroke-width:0.05px">100</text>
<path d="M194.10,201.84H196.10" stroke="#5a5a5a" stroke-width="0.9"/>
<text transform="translate(192.20,204.44) scale(0.850,1)" text-anchor="end" style="font-size:7.10px;font-weight:bold;fill:#1a1a1a;stroke:#1a1a1a;stroke-width:0.05px">105</text>
<path d="M194.10,187.27H196.10" stroke="#5a5a5a" stroke-width="0.9"/>
<text transform="translate(192.20,189.87) scale(0.850,1)" text-anchor="end" style="font-size:7.10px;font-weight:bold;fill:#1a1a1a;stroke:#1a1a1a;stroke-width:0.05px">110</text>
<path d="M194.10,172.70H196.10" stroke="#5a5a5a" stroke-width="0.9"/>
<text transform="translate(192.20,175.30) scale(0.850,1)" text-anchor="end" style="font-size:7.10px;font-weight:bold;fill:#1a1a1a;stroke:#1a1a1a;stroke-width:0.05px">115</text>
<path d="M196.10,274.70V276.70" stroke="#5a5a5a" stroke-width="0.9"/>
<path d="M227.86,274.70V276.70" stroke="#5a5a5a" stroke-width="0.9"/>
<path d="M259.62,274.70V276.70" stroke="#5a5a5a" stroke-width="0.9"/>
<path d="M291.38,274.70V276.70" stroke="#5a5a5a" stroke-width="0.9"/>
<path d="M323.14,274.70V276.70" stroke="#5a5a5a" stroke-width="0.9"/>
<path d="M354.90,274.70V276.70" stroke="#5a5a5a" stroke-width="0.9"/>
<text transform="translate(211.98,284.90) scale(0.930,1)" text-anchor="middle" style="font-size:7.10px;font-weight:bold;fill:#1a1a1a;stroke:#1a1a1a;stroke-width:0.18px">T1</text>
<text transform="translate(243.74,284.90) scale(0.930,1)" text-anchor="middle" style="font-size:7.10px;font-weight:bold;fill:#1a1a1a;stroke:#1a1a1a;stroke-width:0.18px">T2</text>
<text transform="translate(275.50,284.90) scale(0.930,1)" text-anchor="middle" style="font-size:7.10px;font-weight:bold;fill:#1a1a1a;stroke:#1a1a1a;stroke-width:0.18px">T3</text>
<text transform="translate(307.26,284.90) scale(0.930,1)" text-anchor="middle" style="font-size:7.10px;font-weight:bold;fill:#1a1a1a;stroke:#1a1a1a;stroke-width:0.18px">T4</text>
<text transform="translate(339.02,284.90) scale(0.930,1)" text-anchor="middle" style="font-size:7.10px;font-weight:bold;fill:#1a1a1a;stroke:#1a1a1a;stroke-width:0.18px">T5</text>
<text transform="translate(265.60,160.50) scale(0.920,1)" text-anchor="middle" style="font-size:10.70px;font-weight:normal;fill:#2a2a2a">E</text>
<text transform="translate(183.80,164.80) scale(0.967,1)" text-anchor="start" style="font-size:7.10px;font-weight:normal;fill:#1a1a1a;stroke:#1a1a1a;stroke-width:0.22px">mg/kg</text>
<path d="M217.70,176.10H230.80" stroke="#1fb0e6" stroke-width="1.7"/>
<path d="M224.25,173.72L226.62,176.10L224.25,178.47L221.88,176.10Z" fill="#1fb0e6"/>
<text transform="translate(232.40,178.80) scale(0.850,1)" text-anchor="start" style="font-size:7.10px;font-weight:bold;fill:#1a1a1a;stroke:#1a1a1a;stroke-width:0.18px">RR</text>
<path d="M242.30,176.10H255.30" stroke="#ef1c24" stroke-width="1.7"/>
<rect x="246.43" y="173.72" width="4.75" height="4.75" fill="#ef1c24"/>
<text transform="translate(257.00,178.80) scale(0.850,1)" text-anchor="start" style="font-size:7.10px;font-weight:bold;fill:#1a1a1a;stroke:#1a1a1a;stroke-width:0.18px">FR</text>
<path d="M266.00,176.10H279.10" stroke="#1aaa55" stroke-width="1.7"/>
<path d="M272.55,173.53L275.12,178.02L269.99,178.02Z" fill="#1aaa55"/>
<text transform="translate(280.70,178.80) scale(0.850,1)" text-anchor="start" style="font-size:7.10px;font-weight:bold;fill:#1a1a1a;stroke:#1a1a1a;stroke-width:0.18px">PR</text>
<path d="M290.00,176.10H302.70" stroke="#fff000" stroke-width="1.7"/>
<path d="M294.26,174.01L298.44,178.19M294.26,178.19L298.44,174.01M296.35,174.01L296.35,178.19" stroke="#fff000" stroke-width="1" fill="none"/>
<text transform="translate(304.70,178.80) scale(0.850,1)" text-anchor="start" style="font-size:7.10px;font-weight:bold;fill:#1a1a1a;stroke:#1a1a1a;stroke-width:0.18px">WR</text>
<clipPath id="c196_172"><rect x="196.10" y="142.70" width="158.80" height="132.00"/></clipPath><g clip-path="url(#c196_172)">
<path d="M211.98,244.68V250.51M210.88,244.68H213.08M210.88,250.51H213.08" stroke="#1fb0e6" stroke-width="0.9" fill="none"/>
<path d="M243.74,236.23V244.97M242.64,236.23H244.84M242.64,244.97H244.84" stroke="#1fb0e6" stroke-width="0.9" fill="none"/>
<path d="M275.50,237.69V243.52M274.40,237.69H276.60M274.40,243.52H276.60" stroke="#1fb0e6" stroke-width="0.9" fill="none"/>
<path d="M307.26,238.85V244.68M306.16,238.85H308.36M306.16,244.68H308.36" stroke="#1fb0e6" stroke-width="0.9" fill="none"/>
<path d="M339.02,244.10V249.93M337.92,244.10H340.12M337.92,249.93H340.12" stroke="#1fb0e6" stroke-width="0.9" fill="none"/>
<path d="M211.98,230.99V237.98M210.88,230.99H213.08M210.88,237.98H213.08" stroke="#ef1c24" stroke-width="0.9" fill="none"/>
<path d="M243.74,254.01V262.75M242.64,254.01H244.84M242.64,262.75H244.84" stroke="#ef1c24" stroke-width="0.9" fill="none"/>
<path d="M275.50,255.47V271.20M274.40,255.47H276.60M274.40,271.20H276.60" stroke="#ef1c24" stroke-width="0.9" fill="none"/>
<path d="M307.26,247.01V269.75M306.16,247.01H308.36M306.16,269.75H308.36" stroke="#ef1c24" stroke-width="0.9" fill="none"/>
<path d="M339.02,207.38V259.25M337.92,207.38H340.12M337.92,259.25H340.12" stroke="#ef1c24" stroke-width="0.9" fill="none"/>
<path d="M211.98,239.15V256.63M210.88,239.15H213.08M210.88,256.63H213.08" stroke="#1aaa55" stroke-width="0.9" fill="none"/>
<path d="M243.74,220.79V270.33M242.64,220.79H244.84M242.64,270.33H244.84" stroke="#1aaa55" stroke-width="0.9" fill="none"/>
<path d="M275.50,224.28V276.74M274.40,224.28H276.60M274.40,276.74H276.60" stroke="#1aaa55" stroke-width="0.9" fill="none"/>
<path d="M307.26,212.92V235.07M306.16,212.92H308.36M306.16,235.07H308.36" stroke="#1aaa55" stroke-width="0.9" fill="none"/>
<path d="M339.02,189.60V221.66M337.92,189.60H340.12M337.92,221.66H340.12" stroke="#1aaa55" stroke-width="0.9" fill="none"/>
<path d="M211.98,236.52V263.92M210.88,236.52H213.08M210.88,263.92H213.08" stroke="#fff000" stroke-width="0.9" fill="none"/>
<path d="M243.74,208.69V255.32M242.64,208.69H244.84M242.64,255.32H244.84" stroke="#fff000" stroke-width="0.9" fill="none"/>
<path d="M275.50,222.53V282.57M274.40,222.53H276.60M274.40,282.57H276.60" stroke="#fff000" stroke-width="0.9" fill="none"/>
<path d="M307.26,228.07V248.47M306.16,228.07H308.36M306.16,248.47H308.36" stroke="#fff000" stroke-width="0.9" fill="none"/>
<path d="M339.02,202.13V225.45M337.92,202.13H340.12M337.92,225.45H340.12" stroke="#fff000" stroke-width="0.9" fill="none"/>
</g>
<path d="M211.98,247.60 C222.57,245.27 233.03,241.78 243.74,240.60 C254.20,239.45 264.92,240.41 275.50,240.60 C286.09,240.80 296.74,240.71 307.26,241.77 C317.91,242.84 328.43,245.27 339.02,247.01" stroke="#1fb0e6" stroke-width="1.85" fill="none"/>
<path d="M211.98,245.10L214.48,247.60L211.98,250.10L209.48,247.60Z" fill="#1fb0e6"/>
<path d="M243.74,238.10L246.24,240.60L243.74,243.10L241.24,240.60Z" fill="#1fb0e6"/>
<path d="M275.50,238.10L278.00,240.60L275.50,243.10L273.00,240.60Z" fill="#1fb0e6"/>
<path d="M307.26,239.27L309.76,241.77L307.26,244.27L304.76,241.77Z" fill="#1fb0e6"/>
<path d="M339.02,244.51L341.52,247.01L339.02,249.51L336.52,247.01Z" fill="#1fb0e6"/>
<path d="M211.98,234.48 C222.57,242.45 232.03,253.06 243.74,258.38 C253.21,262.68 264.91,263.33 275.50,263.33 C286.09,263.33 297.89,262.81 307.26,258.38 C319.06,252.80 328.43,241.67 339.02,233.32" stroke="#ef1c24" stroke-width="1.85" fill="none"/>
<rect x="209.48" y="231.98" width="5.00" height="5.00" fill="#ef1c24"/>
<rect x="241.24" y="255.88" width="5.00" height="5.00" fill="#ef1c24"/>
<rect x="273.00" y="260.83" width="5.00" height="5.00" fill="#ef1c24"/>
<rect x="304.76" y="255.88" width="5.00" height="5.00" fill="#ef1c24"/>
<rect x="336.52" y="230.82" width="5.00" height="5.00" fill="#ef1c24"/>
<path d="M211.98,247.89 C222.57,247.11 233.20,245.12 243.74,245.56 C254.38,246.00 266.24,253.65 275.50,250.51 C287.42,246.47 296.04,231.92 307.26,223.99 C317.21,216.96 328.43,211.75 339.02,205.63" stroke="#1aaa55" stroke-width="1.85" fill="none"/>
<path d="M211.98,245.19L214.68,249.91L209.28,249.91Z" fill="#1aaa55"/>
<path d="M243.74,242.86L246.44,247.58L241.04,247.58Z" fill="#1aaa55"/>
<path d="M275.50,247.81L278.20,252.54L272.80,252.54Z" fill="#1aaa55"/>
<path d="M307.26,221.29L309.96,226.02L304.56,226.02Z" fill="#1aaa55"/>
<path d="M339.02,202.93L341.72,207.66L336.32,207.66Z" fill="#1aaa55"/>
<path d="M211.98,250.22 C222.57,244.15 233.33,231.62 243.74,232.01 C254.50,232.40 264.48,251.46 275.50,252.55 C285.65,253.55 297.42,244.28 307.26,238.27 C318.59,231.36 328.43,221.95 339.02,213.79" stroke="#fff000" stroke-width="1.85" fill="none"/>
<path d="M209.78,248.02L214.18,252.42M209.78,252.42L214.18,248.02M211.98,248.02L211.98,252.42" stroke="#fff000" stroke-width="1" fill="none"/>
<path d="M241.54,229.81L245.94,234.21M241.54,234.21L245.94,229.81M243.74,229.81L243.74,234.21" stroke="#fff000" stroke-width="1" fill="none"/>
<path d="M273.30,250.35L277.70,254.75M273.30,254.75L277.70,250.35M275.50,250.35L275.50,254.75" stroke="#fff000" stroke-width="1" fill="none"/>
<path d="M305.06,236.07L309.46,240.47M305.06,240.47L309.46,236.07M307.26,236.07L307.26,240.47" stroke="#fff000" stroke-width="1" fill="none"/>
<path d="M336.82,211.59L341.22,215.99M336.82,215.99L341.22,211.59M339.02,211.59L339.02,215.99" stroke="#fff000" stroke-width="1" fill="none"/>
</svg>
</body></html>
